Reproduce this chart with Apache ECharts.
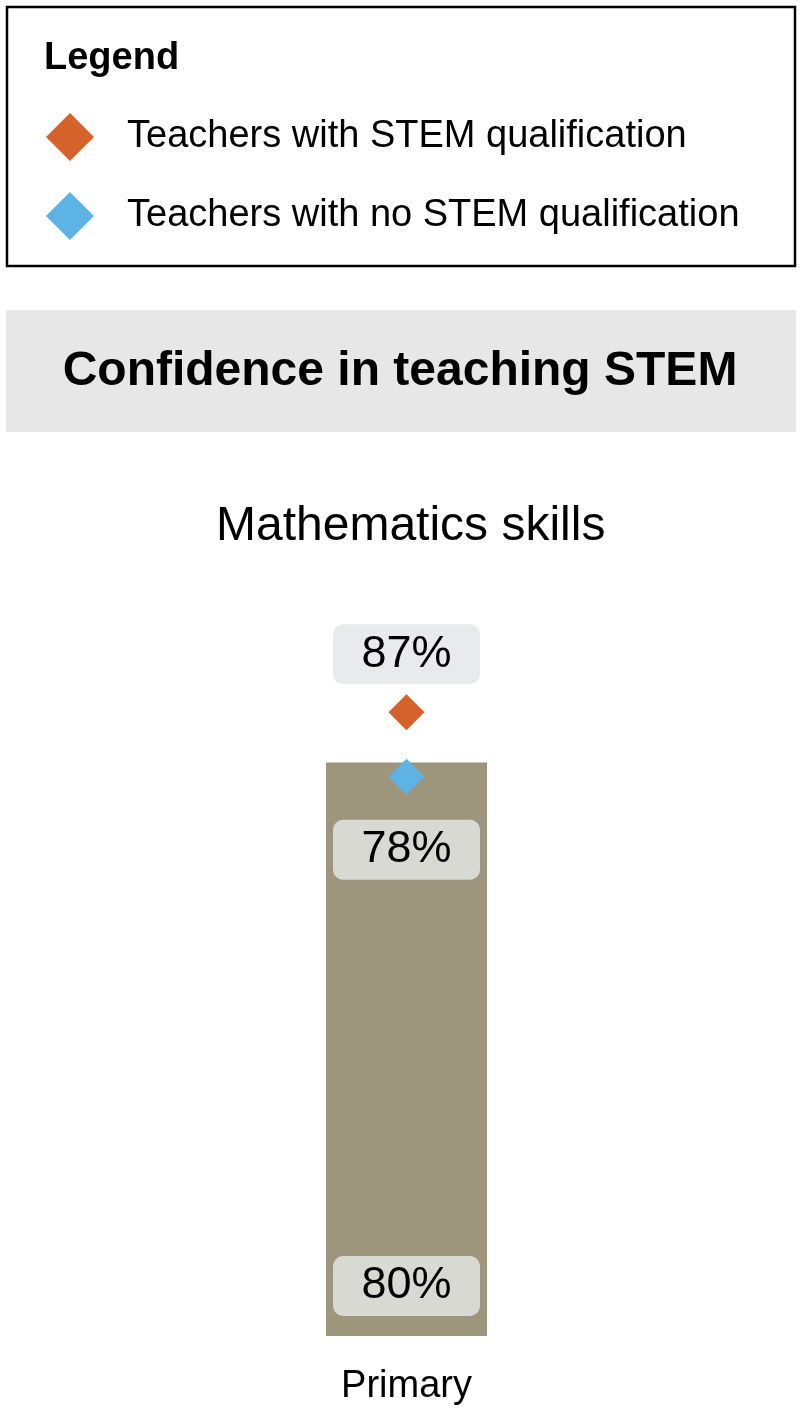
<!DOCTYPE html>
<html>
<head>
<meta charset="utf-8">
<script src="https://cdn.jsdelivr.net/npm/echarts@6/dist/echarts.min.js"></script>
<style>html,body{margin:0;padding:0;background:#fff;}#c{width:800px;height:1412px;}</style>
</head>
<body>
<div id="c"></div>
<script>
const categories = ['Primary'];
const allTeachers = [80];
const stemTeachers = [87];
const noStemTeachers = [78];
const seriesNames = ['Teachers with STEM qualification', 'Teachers with no STEM qualification'];
const chartTitle = 'Confidence in teaching STEM';
const subTitle = 'Mathematics skills';

const FONT = '"Liberation Sans", Arial, Helvetica, sans-serif';
const chart = echarts.init(document.getElementById('c'), null, {renderer: 'canvas'});

const labelBox = (bg) => ({
  show: true,
  formatter: p => p.value + '%',
  fontFamily: FONT,
  fontSize: 45,
  color: '#000',
  opacity: 1,
  backgroundColor: bg,
  borderRadius: 10,
  width: 147,
  height: 60,
  lineHeight: 60,
  align: 'center',
  padding: 0
});

chart.setOption({
  animation: false,
  backgroundColor: '#fff',
  title: [
    {text: 'Legend', left: 39, top: 35, textStyle: {fontFamily: FONT, fontSize: 38, fontWeight: 'bold', color: '#000'}},
    {text: chartTitle, left: 'center', top: 343, textStyle: {fontFamily: FONT, fontSize: 48, fontWeight: 'bold', color: '#000'}},
    {text: subTitle, left: 211, top: 498, textStyle: {fontFamily: FONT, fontSize: 48, fontWeight: 'normal', color: '#000'}}
  ],
  graphic: [
    {type: 'rect', shape: {x: 7, y: 7, width: 788, height: 259}, style: {fill: 'none', stroke: '#000', lineWidth: 2.5}, z: -1},
    {type: 'rect', shape: {x: 6, y: 310, width: 790, height: 122}, style: {fill: '#e6e7e6'}, z: -10}
  ],
  legend: {
    data: seriesNames,
    orient: 'vertical',
    left: 41,
    top: 108,
    itemWidth: 48,
    itemHeight: 48,
    itemGap: 31,
    icon: 'diamond',
    itemStyle: {opacity: 1},
    textStyle: {fontFamily: FONT, fontSize: 38, color: '#000', padding: [0, 0, 0, 28]},
    selectedMode: false
  },
  grid: {left: 326, width: 161, top: 619, bottom: 76, containLabel: false},
  xAxis: {
    type: 'category',
    data: categories,
    axisLine: {show: false},
    axisTick: {show: false},
    axisLabel: {fontFamily: FONT, fontSize: 38, color: '#000', margin: 32}
  },
  yAxis: {type: 'value', min: 0, max: 100, show: false, splitLine: {show: false}},
  series: [
    {
      name: 'All teachers',
      type: 'bar',
      data: allTeachers,
      barWidth: '100%',
      itemStyle: {color: '#9d957c', opacity: 1},
      label: Object.assign(labelBox('#d9d9d3'), {position: 'insideBottom', distance: 20}),
      z: 1
    },
    {
      name: seriesNames[0],
      type: 'scatter',
      data: stemTeachers,
      symbol: 'diamond',
      symbolSize: 36,
      itemStyle: {color: '#d4622a', opacity: 1},
      label: Object.assign(labelBox('#e9eaec'), {position: 'top', distance: 10}),
      z: 3
    },
    {
      name: seriesNames[1],
      type: 'scatter',
      data: noStemTeachers,
      symbol: 'diamond',
      symbolSize: 36,
      itemStyle: {color: '#5db3e4', opacity: 1},
      label: Object.assign(labelBox('#d9d9d3'), {position: 'bottom', distance: 25}),
      z: 3
    }
  ]
});
</script>
</body>
</html>
